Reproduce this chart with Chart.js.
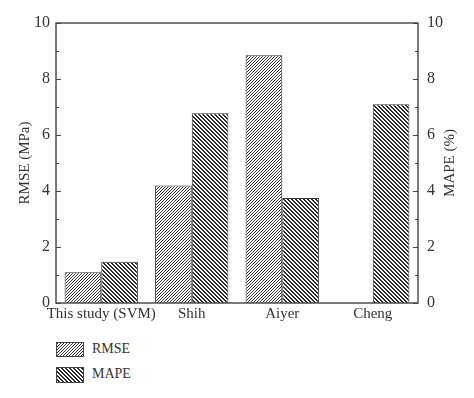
<!DOCTYPE html>
<html>
<head>
<meta charset="utf-8">
<script src="https://cdn.jsdelivr.net/npm/chart.js@4"></script>
<style>
  body { margin: 0; background: #fff; }
  #wrap { position: relative; width: 474px; height: 398px; }
  #box { position: absolute; left: 0; top: 0; width: 474px; height: 325px; }
  .leg { position: absolute; left: 56px; font: 14px "Liberation Serif", serif; color: #333; }
  .leg canvas { position: absolute; left: 0; top: 0; border: 1px solid #444; box-sizing: border-box; }
  .leg span { position: absolute; left: 36px; top: -1px; white-space: nowrap; }
</style>
</head>
<body>
<div id="wrap">
  <div id="box"><canvas id="chart"></canvas></div>
  <div class="leg" style="top:342px"><canvas id="legRmse" width="26" height="13"></canvas><span>RMSE</span></div>
  <div class="leg" style="top:367px"><canvas id="legMape" width="26" height="14"></canvas><span>MAPE</span></div>
</div>
<script>
const categories = ["This study (SVM)", "Shih", "Aiyer", "Cheng"];
const rmse = [1.1, 4.2, 8.85, null];
const mape = [1.47, 6.78, 3.75, 7.1];
const yTicks = [0, 2, 4, 6, 8, 10];

const serif = '"Liberation Serif", "DejaVu Serif", serif';
const axisColor = "#444";

// hatch patterns, drawn pixel by pixel so they stay crisp
function hatch(dir, period, thick, color) {
  const c = document.createElement("canvas");
  c.width = period; c.height = period;
  const g = c.getContext("2d");
  g.fillStyle = "#fff";
  g.fillRect(0, 0, period, period);
  g.fillStyle = color;
  for (let x = 0; x < period; x++) {
    for (let y = 0; y < period; y++) {
      const k = dir === "/" ? (x + y) % period : ((x - y) % period + period) % period;
      if (k < thick) g.fillRect(x, y, 1, 1);
    }
  }
  return g.createPattern(c, "repeat");
}
const rmseFill = hatch("/", 3, 1, "#333");
const mapeFill = hatch("\\", 4, 2, "#2a2a2a");

function fillLegend(id, pat) {
  const cv = document.getElementById(id);
  const g = cv.getContext("2d");
  g.fillStyle = pat;
  g.fillRect(0, 0, cv.width, cv.height);
}
fillLegend("legRmse", rmseFill);
fillLegend("legMape", mapeFill);

// inward tick marks, frame and right-hand title
const frame = {
  id: "frame",
  afterDraw(chart) {
    const { ctx, chartArea: a, scales } = chart;
    ctx.save();
    ctx.strokeStyle = axisColor;
    ctx.lineWidth = 1.4;
    ctx.strokeRect(a.left, a.top, a.right - a.left, a.bottom - a.top);
    ctx.lineWidth = 1;
    for (let v = 0; v <= 10; v++) {
      const len = v % 2 === 0 ? 5 : 3;
      const yl = Math.round(scales.y.getPixelForValue(v)) + 0.5;
      ctx.beginPath();
      ctx.moveTo(a.left, yl); ctx.lineTo(a.left + len, yl);
      const yr = Math.round(scales.y1.getPixelForValue(v)) + 0.5;
      ctx.moveTo(a.right, yr); ctx.lineTo(a.right - len, yr);
      ctx.stroke();
    }
    ctx.fillStyle = "#333";
    ctx.font = "15px " + serif;
    ctx.textAlign = "center";
    ctx.textBaseline = "middle";
    ctx.translate(450, (a.top + a.bottom) / 2);
    ctx.rotate(-Math.PI / 2);
    ctx.fillText("MAPE (%)", 0, 0);
    ctx.restore();
  }
};

const yAxis = (pos) => ({
  position: pos,
  min: 0,
  max: 10,
  afterFit(s) { s.width = 56; },
  afterBuildTicks(s) { s.ticks = yTicks.map(v => ({ value: v })); },
  grid: { display: false, drawTicks: false },
  border: { display: false },
  ticks: { color: "#333", padding: pos === "left" ? 6 : 9, font: { family: serif, size: 16 } }
});

new Chart(document.getElementById("chart"), {
  type: "bar",
  data: {
    labels: categories,
    datasets: [
      { label: "RMSE", data: rmse, yAxisID: "y", backgroundColor: rmseFill, borderColor: "#333", borderWidth: 1 },
      { label: "MAPE", data: mape, yAxisID: "y1", backgroundColor: mapeFill, borderColor: "#333", borderWidth: 1 }
    ]
  },
  options: {
    responsive: true,
    maintainAspectRatio: false,
    animation: false,
    layout: { padding: { top: 23, left: 0, right: 0, bottom: 0 } },
    datasets: { bar: { categoryPercentage: 0.81, barPercentage: 1 } },
    plugins: { legend: { display: false }, tooltip: { enabled: false } },
    scales: {
      x: {
        afterFit(s) { s.height = 22; },
        grid: { display: false, drawTicks: false },
        border: { display: false },
        ticks: { color: "#333", padding: 2, maxRotation: 0, autoSkip: false, font: { family: serif, size: 15 } }
      },
      y: Object.assign(yAxis("left"), {
        title: { display: true, text: "RMSE (MPa)", color: "#333", padding: { top: 16 }, font: { family: serif, size: 15 } }
      }),
      y1: yAxis("right")
    }
  },
  plugins: [frame]
});
</script>
</body>
</html>
